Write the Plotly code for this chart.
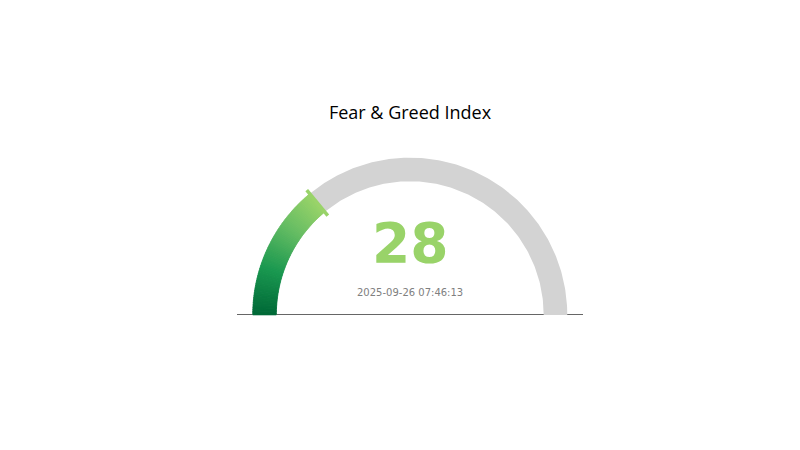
import numpy as np
import plotly.graph_objects as go
from plotly.colors import sample_colorscale

# Data
index_value = 28
scale_range = [0, 100]
timestamp = "2025-09-26 07:46:13"
chart_title = "Fear & Greed Index"

r_in, r_out = 0.85, 1.0


def val_to_angle(v):
    # 0 -> left (180 deg), 100 -> right (0 deg)
    frac = (v - scale_range[0]) / (scale_range[1] - scale_range[0])
    return np.pi * (1 - frac)


def wedge(a0, a1, n=20):
    t = np.linspace(a0, a1, n)
    xs = np.concatenate([r_out * np.cos(t), r_in * np.cos(t[::-1])])
    ys = np.concatenate([r_out * np.sin(t), r_in * np.sin(t[::-1])])
    return np.append(xs, xs[0]), np.append(ys, ys[0])


fig = go.Figure()

# grey background arc
bx, by = wedge(val_to_angle(scale_range[0]), val_to_angle(scale_range[1]), 200)
fig.add_trace(go.Scatter(x=bx, y=by, fill="toself", fillcolor="#d3d3d3",
                         line=dict(width=0), mode="lines", hoverinfo="skip"))

# gradient arc up to the value
steps = np.linspace(scale_range[0], index_value, 81)
for v0, v1 in zip(steps[:-1], steps[1:]):
    col = sample_colorscale("RdYlGn_r", [(v0 + v1) / 2 / scale_range[1]])[0]
    sx, sy = wedge(val_to_angle(v0), val_to_angle(v1) - 0.004, 4)
    fig.add_trace(go.Scatter(x=sx, y=sy, fill="toself", fillcolor=col,
                             line=dict(width=0.6, color=col), mode="lines",
                             hoverinfo="skip"))

value_color = sample_colorscale("RdYlGn_r", [index_value / scale_range[1]])[0]

# marker at the value
a = val_to_angle(index_value)
fig.add_trace(go.Scatter(x=[0.82 * np.cos(a), 1.03 * np.cos(a)],
                         y=[0.82 * np.sin(a), 1.03 * np.sin(a)],
                         mode="lines", line=dict(color=value_color, width=3.5),
                         hoverinfo="skip"))

fig.add_annotation(x=0, y=0.46, text="<b>%d</b>" % index_value, showarrow=False,
                   font=dict(family="DejaVu Sans", size=55, color=value_color))
fig.add_annotation(x=0, y=0.14, text=timestamp, showarrow=False,
                   font=dict(family="DejaVu Sans", size=10, color="#808080"))

fig.update_layout(
    width=800, height=450,
    template="none",
    showlegend=False,
    paper_bgcolor="white", plot_bgcolor="white",
    margin=dict(l=229, r=225, t=93, b=87),
    title=dict(text=chart_title, x=0.5025, xanchor="center", y=1 - 105 / 450,
               yanchor="middle", font=dict(size=18, color="black")),
    xaxis=dict(range=[-1.1, 1.1], showgrid=False, zeroline=False,
               showticklabels=False, showline=False, ticks=""),
    yaxis=dict(range=[-0.356, 1.360], showgrid=False, zeroline=True,
               zerolinecolor="#666", zerolinewidth=1,
               showticklabels=False, showline=False, ticks=""),
)

fig.write_html("out.html")
